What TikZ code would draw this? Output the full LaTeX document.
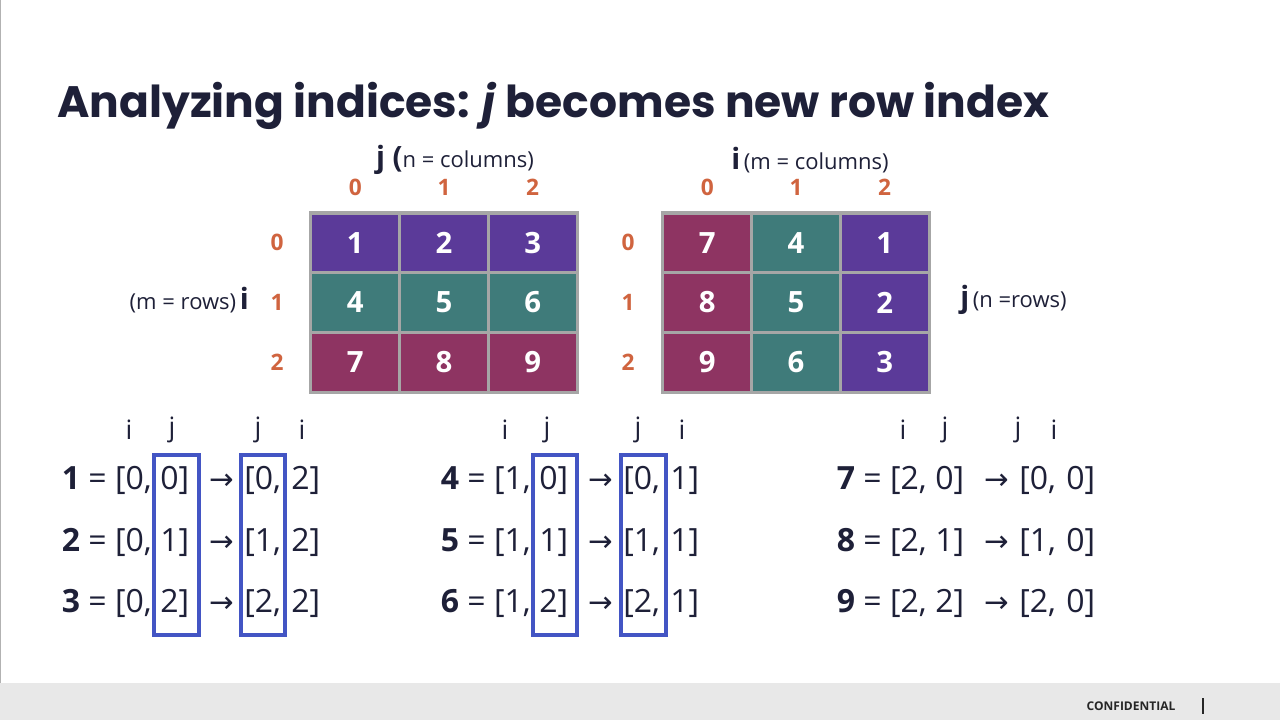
\documentclass[tikz,border=0pt]{standalone}
\usepackage{fontspec}
\setmainfont{Poppins}
\newfontfamily\dv{DejaVu Sans}
\newfontfamily\os{Open Sans}
\definecolor{pur}{HTML}{5B3A99}
\definecolor{tea}{HTML}{3F7B7A}
\definecolor{mag}{HTML}{8E3462}
\definecolor{ora}{HTML}{D0643F}
\definecolor{blu}{HTML}{4355C4}
\definecolor{ink}{HTML}{1E2038}
\tikzset{
 cell/.style={draw=gray!70,line width=2.2pt,minimum width=88.7*0.75pt,minimum height=59.7*0.75pt,text=white,font=\fontsize{22}{26}\os\bfseries,inner sep=0pt},
 idx/.style={text=ora,font=\fontsize{17}{20}\os\bfseries,inner sep=0pt},
 eqw/.style={anchor=base west,inner sep=0pt,text=ink,font=\fontsize{24}{28}\os},
 eqe/.style={anchor=base east,inner sep=0pt,text=ink,font=\fontsize{24}{28}\os},
 arr/.style={anchor=base,inner sep=0pt,text=ink,font=\fontsize{22}{28}\dv},
 hd/.style={inner sep=0pt,text=ink,font=\fontsize{20}{24}\os},
 bbox/.style={draw=blu,line width=3pt}
}
\newcommand\eqrow[7]{% x-offset, y, num, i, j, newrow, newcol
 \node[eqe] at ({152+#1},#2) {\textbf{#3} = [#4,};
 \node[eqw] at ({160+#1},#2) {#5]};
 \node[arr] at ({222+#1},#2) {→};
 \node[eqw] at ({244+#1},#2) {[#6,};
 \node[eqw] at ({291+#1},#2) {#7]};}
\begin{document}
\begin{tikzpicture}[x=0.75pt,y=-0.75pt]
\useasboundingbox (0,0) rectangle (1280,720);
\fill[white] (0,0) rectangle (1280,720);
\fill[gray!18] (0,683) rectangle (1280,720);
\draw[gray!60,line width=1pt] (0.5,0) -- (0.5,683);
\node[anchor=center,inner sep=0pt,text=gray!30!black,font=\fontsize{9}{10}\os\bfseries] (conf) at (1131,706) {CONFIDENTIAL};
\draw[gray!30!black,line width=1pt] (1203,698) -- (1203,714);
\node[anchor=base west,inner sep=0pt,text=ink,font=\fontsize{33}{40}\selectfont\bfseries] (title) at (57,118) {Analyzing indices: \textit{j} becomes new row index};
\foreach \r/\c/\v/\col in {0/0/1/pur,0/1/2/pur,0/2/3/pur,1/0/4/tea,1/1/5/tea,1/2/6/tea,2/0/7/mag,2/1/8/mag,2/2/9/mag}{
 \node[cell,fill=\col] (a\r\c) at ({355.3+88.7*\c},{242.8+59.7*\r}) {\v};}
\foreach \r/\c/\v/\col in {0/0/7/mag,0/1/4/tea,0/2/1/pur,1/0/8/mag,1/1/5/tea,1/2/2/pur,2/0/9/mag,2/1/6/tea,2/2/3/pur}{
 \node[cell,fill=\col] (b\r\c) at ({707.3+88.7*\c},{242.8+59.7*\r}) {\v};}
\draw[gray!70,line width=3pt] (311,213) -- (577,213);
\draw[gray!70,line width=3pt] (663,213) -- (929,213);
\foreach \k in {0,1,2}{
 \node[idx] (ac\k) at ({355.3+88.7*\k},187) {\k};
 \node[idx] (bc\k) at ({707.3+88.7*\k},187) {\k};
 \node[idx] (ar\k) at (277,{242.8+59.7*\k}) {\k};
 \node[idx] (br\k) at (628,{242.8+59.7*\k}) {\k};}
\node[inner sep=0pt,text=ink] (h1) at (455,160) {{\fontsize{22}{24}\os\bfseries j (}{\fontsize{16.5}{18}\os n = columns)}};
\node[inner sep=0pt,text=ink] (h2) at (810,160) {{\fontsize{22}{24}\os\bfseries i} {\fontsize{16.5}{18}\os(m = columns)}};
\node[inner sep=0pt,text=ink,anchor=east] (h3) at (249,300) {{\fontsize{16.5}{18}\os(m = rows)} {\fontsize{22}{24}\os\bfseries i}};
\node[inner sep=0pt,text=ink,anchor=west] (h4) at (960,300) {{\fontsize{22}{24}\os\bfseries j} {\fontsize{16.5}{18}\os(n =rows)}};
\foreach \x/\t [count=\n] in {129/i,172/j,258/j,302/i,505/i,547/j,638/j,682/i,903/i,945/j,1018/j,1054/i}{
 \node[hd] (ij\n) at (\x,430) {\t};}
\eqrow{0}{489}{1}{0}{0}{0}{2}
\eqrow{0}{551}{2}{0}{1}{1}{2}
\eqrow{0}{612}{3}{0}{2}{2}{2}
\eqrow{379}{489}{4}{1}{0}{0}{1}
\eqrow{379}{551}{5}{1}{1}{1}{1}
\eqrow{379}{612}{6}{1}{2}{2}{1}
\eqrow{775}{489}{7}{2}{0}{0}{0}
\eqrow{775}{551}{8}{2}{1}{1}{0}
\eqrow{775}{612}{9}{2}{2}{2}{0}
\draw[bbox] (154,455) rectangle (199,635);
\draw[bbox] (241,455) rectangle (285,635);
\draw[bbox] (533,455) rectangle (577,635);
\draw[bbox] (621,455) rectangle (666,635);
\end{tikzpicture}
\end{document}
